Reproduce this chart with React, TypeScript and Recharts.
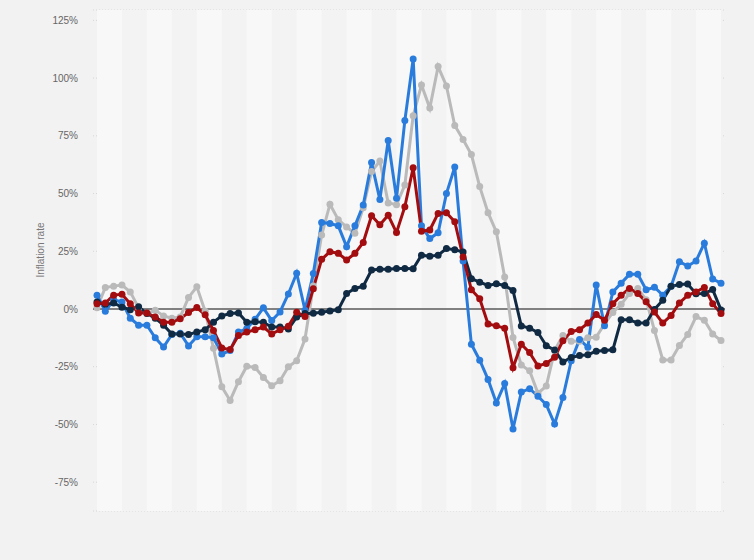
import React from 'react';
import { LineChart, Line, XAxis, YAxis, CartesianGrid, ReferenceLine, ReferenceArea } from 'recharts';

// inflation rate per period (in %)
const blueSeries = [
  6, -1, 4, 3, -4, -7, -7, -12.5, -16.5, -11, -10.5, -16, -12, -12, -12.5, -19.5, -18, -10, -8.5, -4.5,
  0.5, -5, -1.3, 6.5, 15.5, -0.5, 15.4, 37.5, 37, 36, 27, 36, 45, 63.4, 47.4, 73, 48, 81.6, 108.3, 36,
  30.5, 33, 50, 61.5, 20.8, -15.3, -22.2, -30.5, -40.7, -32.3, -52, -36, -34.5, -37.8, -41.4, -49.8, -38.3, -22.4, -13.2, -16.6,
  10.4, -7.3, 7.4, 11.2, 15, 15, 8.3, 9.4, 6, 9.8, 20.5, 18.6, 20.8, 28.5, 13, 11.2,
];
const navySeries = [
  3, 2, 2.6, 0.8, -0.3, 1, -2, -4, -7, -10.8, -10.8, -11, -10, -9, -5.7, -3, -2, -1.7, -5.7, -5.5,
  -5.8, -7.8, -7.8, -8.7, -3.5, -2, -1.8, -1.4, -0.9, -0.3, 6.7, 8.9, 9.9, 16.9, 17.2, 17.2, 17.5, 17.5, 17.4, 23.3,
  22.8, 23.3, 26.2, 25.7, 24.7, 13.1, 11.6, 10.2, 10.9, 10.2, 8, -7.4, -8.3, -10.2, -15.9, -17.8, -23, -21, -20.2, -19.8,
  -18.3, -18, -17.7, -4.7, -4.7, -6.1, -6.1, -0.2, 3.8, 9.8, 10.6, 10.8, 6.6, 6.7, 8.4, -0.4,
];
const redSeries = [
  2.3, 2.6, 6, 6.4, 2.3, -1.7, -1.7, -3.5, -5.7, -5.7, -4.2, -1.5, 0.6, -2.5, -9.3, -16.9, -17.6, -11.5, -10, -9,
  -7.8, -10.8, -9, -7.5, -1.4, -3.3, 8.8, 21.5, 24.8, 24.1, 21.2, 24.1, 28.8, 40.4, 36.5, 40.6, 33.1, 44.3, 61.2, 33.7,
  34.2, 41.4, 41.7, 37.8, 22.5, 8.3, 4.4, -6.5, -7.3, -8.3, -25.4, -15.3, -18.9, -24.7, -23.6, -20.9, -13.8, -9.8, -9, -6.1,
  -2.4, -4.9, 2.3, 5.9, 8.9, 6.7, 3.1, -1.3, -6.1, -2.8, 2.6, 5.9, 7.4, 9.3, 2.3, -2,
];
const greySeries = [
  0.5, 9.3, 9.9, 10.4, 7.4, 0.5, -2, -0.5, -3, -4, -3.5, 5, 9.6, -1, -17, -33.7, -39.6, -31.5, -24.8, -25.3,
  -29.7, -33.3, -31.1, -25, -22.4, -13, 10, 32, 45.4, 38.7, 35.5, 32.8, 43.8, 59.5, 64.1, 45.9, 45.2, 53.7, 83.7, 97,
  87, 105, 96.6, 79.5, 73.4, 66.9, 53, 41.7, 33.4, 13.8, -12.3, -24.3, -26.8, -36.5, -33.4, -18, -11.5, -14, -14, -12.5,
  -12.2, -6.5, -1.5, 2, 6.7, 8.9, 4, -9.3, -22.1, -22.1, -15.8, -11, -3.3, -4.9, -10.8, -13.7,
];
const yTicks = [-75, -50, -25, 0, 25, 50, 75, 100, 125];

const data = blueSeries.map((v, i) => ({
  idx: i,
  blue: v,
  navy: navySeries[i],
  red: redSeries[i],
  grey: greySeries[i],
}));

const last = data.length - 1;
// every other group of 3 periods gets a lighter band
const bands: number[][] = [];
for (let s = 0; s < last; s += 6) bands.push([s, Math.min(s + 3, last)]);

const fontFamily = '"Liberation Sans", Arial, sans-serif';

const AxisTitle = () => (
  <text x={40} y={250} transform="rotate(-90 40 250)" textAnchor="middle" dominantBaseline="central"
    fontSize={10} fill="#777" fontFamily={fontFamily}>
    Inflation rate
  </text>
);

export default function App() {
  return (
    <div style={{ position: 'absolute', left: 0, top: 0, width: 754, height: 560, background: '#f2f2f2' }}>
      <LineChart width={754} height={560} data={data} margin={{ top: 10, right: 29, bottom: 49, left: 0 }}>
        <ReferenceArea x1={0} x2={last} fill="#f3f3f3" fillOpacity={1} strokeOpacity={0} />
        {bands.map(([a, b]) => (
          <ReferenceArea key={a} x1={a} x2={b} fill="#f8f8f8" fillOpacity={1} strokeOpacity={0} />
        ))}
        <CartesianGrid vertical={false} stroke="#d6d6d6" strokeDasharray="1 2" />
        <XAxis dataKey="idx" type="number" domain={[0, last]} hide padding={{ left: 4, right: 4 }} />
        <YAxis
          domain={[-87.5, 129.5]}
          ticks={yTicks}
          width={93}
          axisLine={false}
          tickLine={false}
          tickSize={0}
          tickMargin={15}
          tick={{ fontSize: 10, fill: '#666', fontFamily }}
          tickFormatter={(v: number) => `${v}%`}
          label={{ content: <AxisTitle /> }}
        />
        <ReferenceLine y={0} stroke="#5a5a5a" strokeWidth={1.5} />
        <Line dataKey="grey" stroke="#bababa" strokeWidth={3} dot={{ r: 3.5, fill: '#bababa', strokeWidth: 0 }} isAnimationActive={false} />
        <Line dataKey="blue" stroke="#2a7cdc" strokeWidth={3} dot={{ r: 3.5, fill: '#2a7cdc', strokeWidth: 0 }} isAnimationActive={false} />
        <Line dataKey="navy" stroke="#0f2a42" strokeWidth={3} dot={{ r: 3.5, fill: '#0f2a42', strokeWidth: 0 }} isAnimationActive={false} />
        <Line dataKey="red" stroke="#a30d0f" strokeWidth={3} dot={{ r: 3.5, fill: '#a30d0f', strokeWidth: 0 }} isAnimationActive={false} />
      </LineChart>
    </div>
  );
}
